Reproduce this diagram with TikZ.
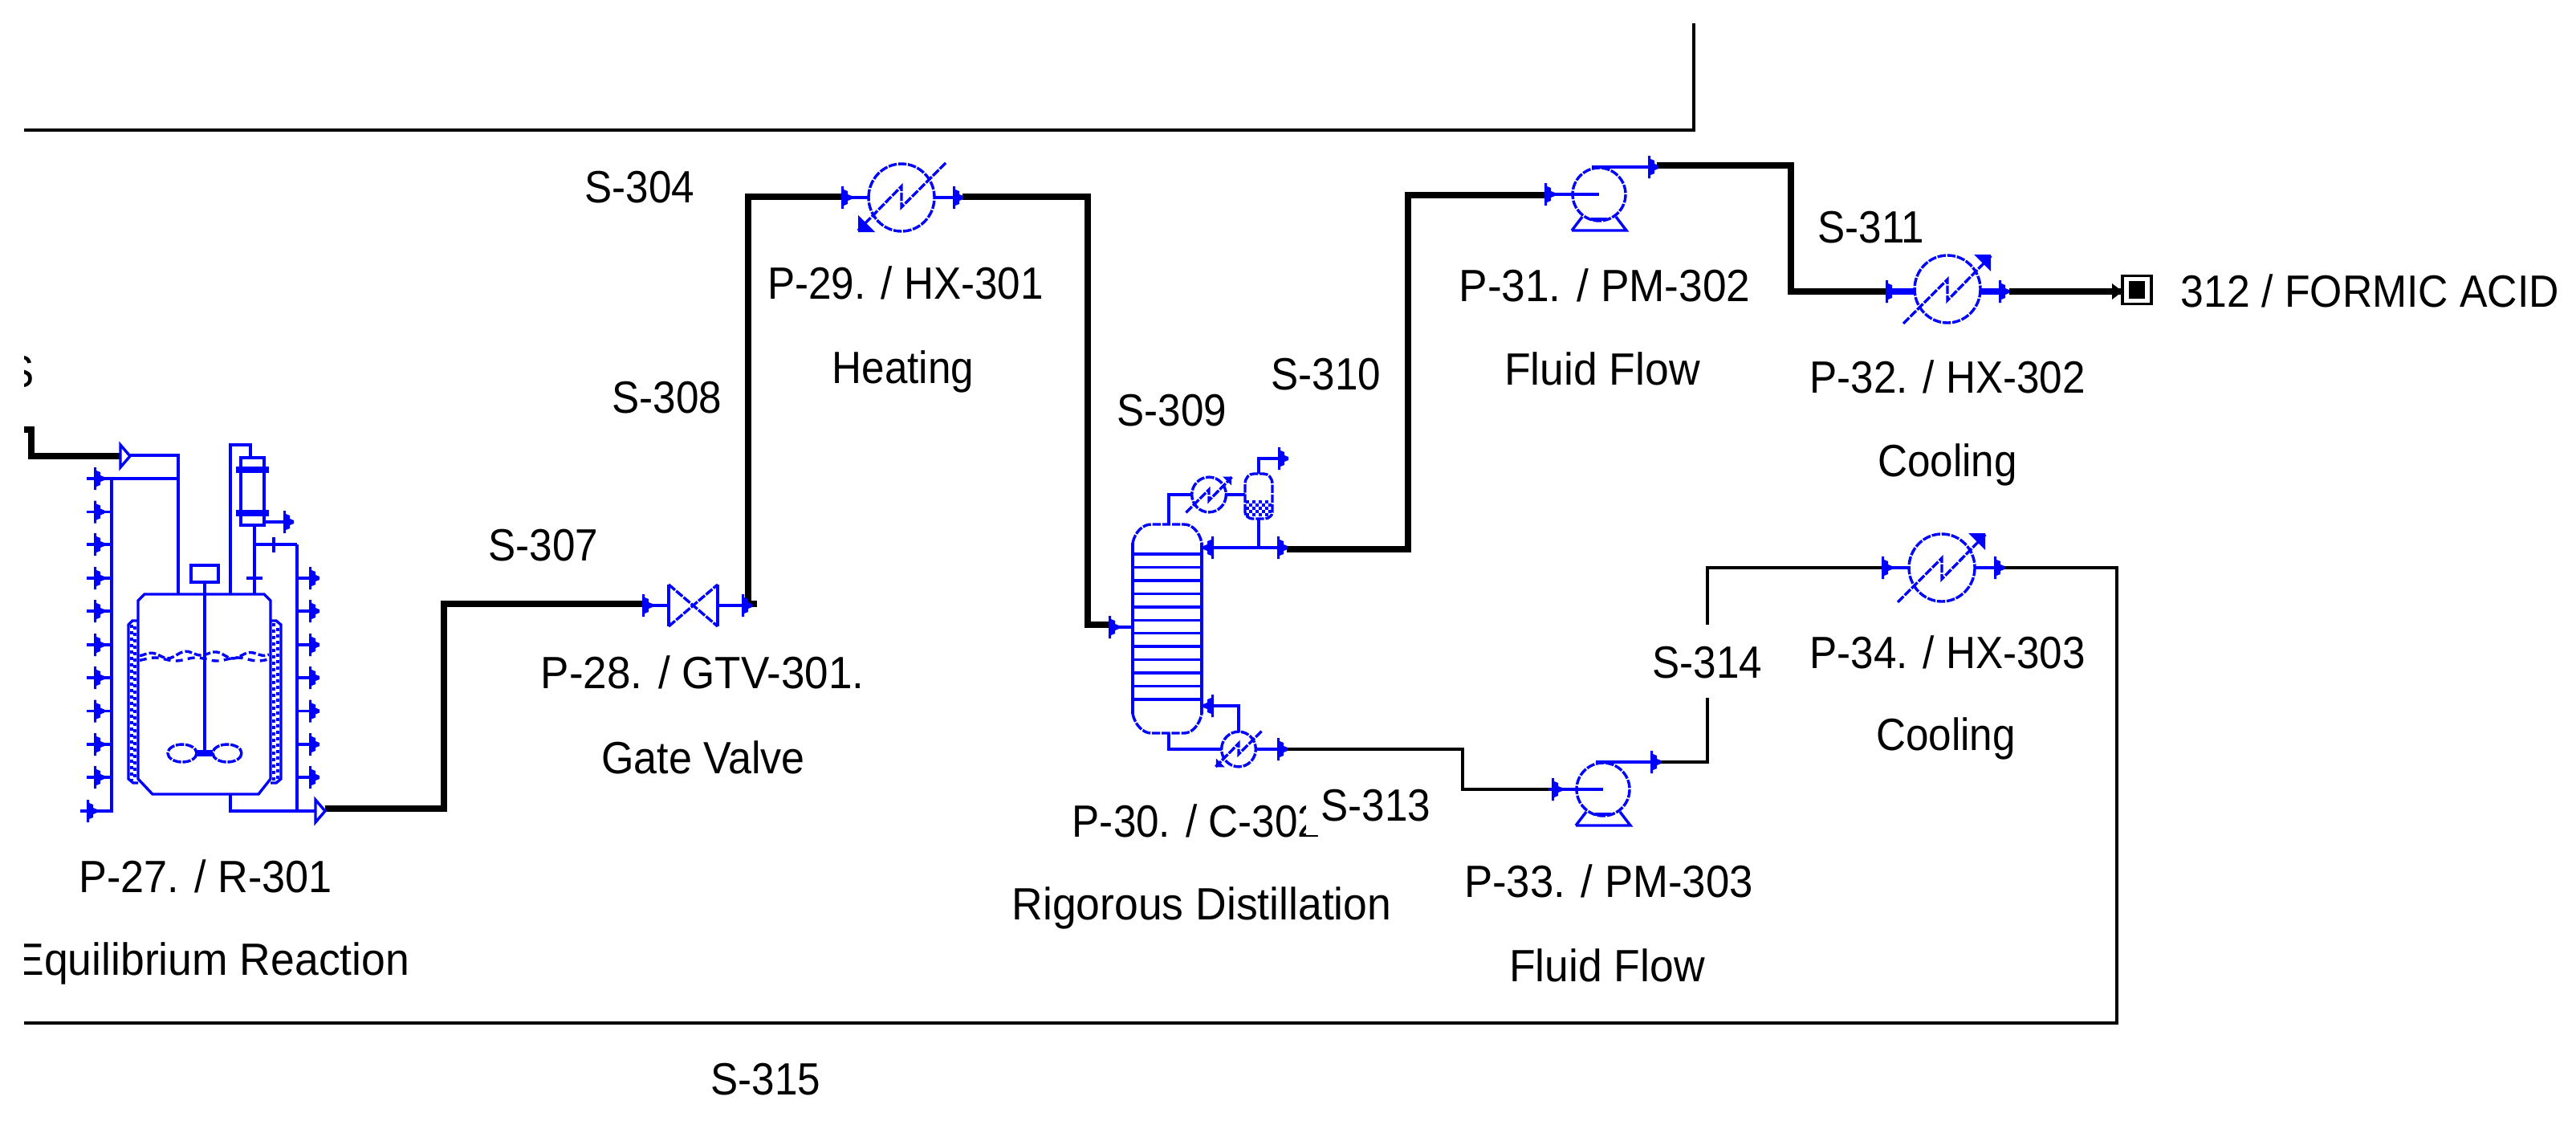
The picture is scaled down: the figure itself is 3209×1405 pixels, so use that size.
\documentclass[tikz,border=0pt]{standalone}
\usepackage{fontspec}
\usepackage{graphicx}
\setmainfont{Liberation Sans}
\definecolor{pfdblue}{RGB}{0,0,255}
\newcommand{\lbl}[1]{\scalebox{1}[1.1]{#1}}
\newcommand{\lblw}[2]{\scalebox{#1}[1.1]{#2}}
\tikzset{
  bl/.style={draw=pfdblue,line width=.85pt,line join=miter},
  bld/.style={bl,dash pattern=on 2.6pt off .45pt},
  thickline/.style={draw=black,line width=2pt,line join=miter},
  thinline/.style={draw=black,line width=1pt,line join=miter},
  lab/.style={font=\fontsize{12.8}{15}\selectfont,inner sep=0pt,anchor=base},
  chk/.style={draw=pfdblue,line width=1pt,dash pattern=on 1pt off 1pt},
  pics/barb/.style={code={
    \fill[pfdblue] (0,-14)--(3,-14)--(3,-10)--(8,-8)--(8,-4)--(13,-2)--(13,2)--(8,4)--(8,8)--(3,10)--(3,14)--(0,14)--cycle;}},
  pics/openbarb/.style={code={
    \draw[bl,fill=white] (0,-14)--(12,0)--(0,14)--cycle;}},
  pics/hx/.style={code={
    \draw[bld] (0,0) ellipse [x radius=41,y radius=42];
    \draw[bld] (-55,43)--(0,-12)--(0,14)--(55,-42);
    \fill[pfdblue] (33,-43)--(54,-43)--(54,-22)--cycle;}},
  pics/pump/.style={code={
    \draw[bld] (0,0) ellipse [x radius=33,y radius=33];
    \draw[bl] (-34,45)--(34,45)--(21,28) (-34,45)--(-21,28);
    \draw[bl] (-10,31)--(10,31);
    \draw[bl] (-9,-34)--(61,-34);
    \draw[bl] (-68,0)--(0,0);
    \draw[bl] (10,-34)--(10,-30);}}
}
\begin{document}
\begin{tikzpicture}[x=.25pt,y=-.25pt]
\useasboundingbox (0,0) rectangle (3209,1405);
\fill[white] (0,0) rectangle (3209,1405);
\begin{scope}
\clip (30,0) rectangle (3209,1405);

% ---- named ports and corners
\coordinate (topA) at (2110,29);
\coordinate (topB) at (20,162);
\coordinate (feedA) at (20,535);
\coordinate (feedB) at (39,535);
\coordinate (Rin) at (150,568);
\coordinate (Rout) at (405,1007);
\coordinate (c1) at (553,1007);
\coordinate (Vin) at (800,752);
\coordinate (Vout) at (943,752);
\coordinate (c2) at (932,752);
\coordinate (Hin) at (1048,245);
\coordinate (Hout) at (1199,245);
\coordinate (c3) at (1355,245);
\coordinate (Cin) at (1381,778);
\coordinate (Dout) at (1603,684);
\coordinate (c4) at (1754,684);
\coordinate (P1in) at (1924,243);
\coordinate (P1out) at (2064,206);
\coordinate (c5) at (2231,206);
\coordinate (H2in) at (2349,363);
\coordinate (H2out) at (2503,363);
\coordinate (Prod) at (2644,363);
\coordinate (Bout) at (1603,933);
\coordinate (c6) at (1822,933);
\coordinate (P2in) at (1933,983);
\coordinate (P2out) at (2067,949);
\coordinate (c7) at (2127,949);
\coordinate (H3in) at (2344,707);
\coordinate (H3out) at (2496,707);
\coordinate (c8) at (2637,707);
\coordinate (recy) at (20,1274);

% ---- streams
\draw[thinline] (topA) |- (topB);
\draw[thickline] (feedA) -- (feedB) |- (Rin);
\draw[thickline] (Rout) -- (c1) |- (Vin);
\draw[thickline] (Vout) -- (c2) |- (Hin);
\draw[thickline] (Hout) -- (c3) |- (Cin);
\draw[thickline] (Dout) -- (c4) |- (P1in);
\draw[thickline] (P1out) -- (c5) |- (H2in);
\draw[thickline] (H2out) -- (Prod);
\draw[thinline] (Bout) -- (c6) |- (P2in);
\draw[thinline] (P2out) -- (c7) |- (H3in);
\draw[thinline] (H3out) -- (c8) |- (recy);

% ---- reactor R-301
\pic at (150,568) {openbarb};
\draw[bl] (162,567) -| (222,740);
\draw[bl] (222,596) -- (139,596);
\draw[bl] (139,596) -- (139,1010) -- (100,1010);
\foreach \yy in {596,637.5,678,720,761,803,844,885.5,927,968}{
  \draw[bl] (108,\yy) -- (139,\yy);
  \pic at (117,\yy) {barb};
}
\pic at (108,1010) {barb};
\draw[bl] (370,678) -- (370,1010);
\draw[bl] (317,654) -- (317,740);
\draw[bl] (317,678) -- (370,678);
\draw[bl] (341,669) -- (341,688);
\draw[bl] (307,720) -- (327,720);
\foreach \yy in {720,761,803,844,885.5,927,968}{
  \draw[bl] (370,\yy) -- (385,\yy);
  \pic at (385,\yy) {barb};
}
\draw[bl] (287,988) -- (287,1010) -- (393,1010);
\pic at (393,1010) {openbarb};
% condenser
\draw[bl,line width=1.1pt] (300,570) rectangle (329,654);
\draw[bl,line width=1.8pt] (294,585) -- (335,585);
\draw[bl,line width=1.8pt] (294,639) -- (335,639);
\draw[bl] (312,570) -- (312,554) -- (287,554) -- (287,740);
\draw[bl] (330,650) -- (353,650);
\pic at (353,650) {barb};
% vessel
\draw[bl] (172,773) -- (172,748) -- (180,740) -- (329,740) -- (337,748) -- (337,773);
\draw[bl] (172,773) -- (172,970) -- (190,989) -- (322,989) -- (337,970) -- (337,773);
\draw[bl] (172,773) -- (165,773) -- (160,778) -- (160,970) -- (166,975) -- (172,975);
\draw[bl] (337,773) -- (344,773) -- (350,778) -- (350,970) -- (344,975) -- (337,975);
\draw[chk] (164,778) -- (164,972);
\draw[chk,dash phase=1pt] (168,776) -- (168,972);
\draw[chk] (341,776) -- (341,972);
\draw[chk,dash phase=1pt] (346,778) -- (346,972);
% liquid level
\draw[bl,dash pattern=on 2.2pt off .8pt] plot[domain=174:335,samples=60,smooth] (\x,{815+3*sin(9*\x)+2*sin(4*\x)});
\draw[bl,dash pattern=on 2.2pt off 1.6pt] plot[domain=174:335,samples=60,smooth] (\x,{821+2*sin(7*\x)});
% agitator
\draw[bl,line width=1.1pt] (238,704) rectangle (272,725);
\draw[bl] (255,725) -- (255,934);
\fill[pfdblue] (245,934) rectangle (265,942);
\draw[bld] (227,938) ellipse [x radius=18,y radius=11];
\draw[bld] (283,938) ellipse [x radius=18,y radius=11];

% ---- valve GTV-301
\pic at (800,754) {barb};
\draw[bl] (813,754) -- (833,754);
\draw[bl,line width=1pt] (833,728) -- (833,780);
\draw[bl,line width=1pt] (894,728) -- (894,780);
\draw[bld] (833,728) -- (894,780);
\draw[bld] (833,780) -- (894,728);
\draw[bl] (894,754) -- (924,754);
\pic at (924,754) {barb};

% ---- HX-301
\pic at (1048,246) {barb};
\draw[bl] (1059,246) -- (1082,246);
\pic[rotate=180] at (1123,246) {hx};
\draw[bl] (1165,246) -- (1187,246);
\pic at (1187,246) {barb};

% ---- column C-302
\draw[bl] (1411,676) -- (1411,889);
\draw[bl] (1497,676) -- (1497,889);
\draw[bld] (1411,676) .. controls (1414,662) and (1424,653) .. (1434,653) -- (1475,653) .. controls (1485,653) and (1494,662) .. (1497,676);
\draw[bld] (1411,889) .. controls (1414,903) and (1424,913) .. (1434,913) -- (1475,913) .. controls (1485,913) and (1494,903) .. (1497,889);
\foreach \i in {0,...,11}{
  \draw[bl] (1411,{690+16.45*\i}) -- (1497,{690+16.45*\i});
}
\pic at (1381,781) {barb};
\draw[bl] (1393,781) -- (1411,781);
% overhead
\draw[bl] (1456,653) -- (1456,616) -- (1485,616);
\pic[scale=.52] at (1506,616) {hx};
\draw[bl] (1526,616) -- (1551,616);
\draw[bld] (1551,638) -- (1551,603) .. controls (1551,595) and (1556,590) .. (1562,590) -- (1574,590) .. controls (1580,590) and (1585,595) .. (1585,603) -- (1585,638) .. controls (1585,642) and (1580,646) .. (1576,646) -- (1560,646) .. controls (1556,646) and (1551,642) .. (1551,638);
\foreach \yy/\ph in {625/0pt,629/1pt,633/0pt,637/1pt,641/0pt}{
  \draw[chk,dash phase=\ph] (1552,\yy) -- (1584,\yy);
}
\draw[bl] (1568,590) -- (1568,571) -- (1592,571);
\pic at (1592,571) {barb};
\draw[bl] (1568,646) -- (1568,682);
\draw[bl] (1592,682) -- (1512,682);
\pic at (1591,682) {barb};
\pic[rotate=180] at (1512,682) {barb};
% reboiler
\draw[bl] (1456,913) -- (1456,933) -- (1522,933);
\pic[scale=.52,rotate=180] at (1543,933) {hx};
\draw[bl] (1543,912) -- (1543,879) -- (1512,879);
\pic[rotate=180] at (1512,879) {barb};
\draw[bl] (1564,933) -- (1591,933);
\pic at (1591,933) {barb};

% ---- pumps
\pic at (1992,242) {pump};
\pic at (1924,242) {barb};
\pic at (2053,208) {barb};
\pic at (1997,983) {pump};
\pic at (1933,983) {barb};
\pic at (2056,949) {barb};

% ---- HX-302
\draw[bl,line width=2pt] (2349,363) -- (2385,363);
\draw[bl,line width=2pt] (2467,363) -- (2490,363);
\pic at (2349,363) {barb};
\pic at (2426,360) {hx};
\pic at (2490,363) {barb};
\fill[black] (2631,353) -- (2644,363) -- (2631,373) -- cycle;
\node[draw=black,line width=.8pt,minimum width=9pt,minimum height=8.8pt,inner sep=0pt] (endbox) at (2662,361) {};
\fill[black] (2652,350) rectangle (2672,372);

% ---- HX-303
\pic at (2344,707) {barb};
\draw[bl] (2355,707) -- (2380,707);
\pic at (2419,707) {hx};
\draw[bl] (2459,707) -- (2484,707);
\pic at (2484,707) {barb};

% ---- labels
\node[lab,anchor=base east] (lS) at (43,482) {\lbl{S}};
\node[lab] (s304) at (797,252) {\lbl{S-304}};
\node[lab] (s308) at (831,514) {\lbl{S-308}};
\node[lab] (s307) at (677,698) {\lbl{S-307}};
\node[lab] (s309) at (1460,530) {\lbl{S-309}};
\node[lab] (s310) at (1652,485) {\lbl{S-310}};
\node[lab] (s311) at (2331,302) {\lbl{S-311}};
\fill[white] (2100,778) rectangle (2154,869);
\node[lab] (s314) at (2127,844) {\lbl{S-314}};
\node[lab] (s315) at (954,1363) {\lbl{S-315}};
\node[lab] (p27) at (256,1111) {\lblw{1.02}{P-27. / R-301}};
\node[lab,anchor=base east] (p27b) at (511,1214) {\lblw{1.045}{Equilibrium Reaction}};
\node[lab,anchor=base west] (p28) at (673,857) {\lblw{1.035}{P-28. / GTV-301.}};
\node[lab] (p28b) at (876,963) {\lblw{1.016}{Gate Valve}};
\node[lab] (p29) at (1128,372) {\lbl{P-29. / HX-301}};
\node[lab] (p29b) at (1125,477) {\lbl{Heating}};
\node[lab,anchor=base west] (p30) at (1335,1042) {\lbl{P-30. / C-302}};
\fill[white] (1627,960) rectangle (1795,1040);
\node[lab] (s313) at (1714,1022) {\lbl{S-313}};
\node[lab] (p30b) at (1497,1145) {\lblw{1.045}{Rigorous Distillation}};
\node[lab] (p31) at (1999,375) {\lblw{1.04}{P-31. / PM-302}};
\node[lab] (p31b) at (1996,479) {\lblw{1.044}{Fluid Flow}};
\node[lab] (p32) at (2426,489) {\lbl{P-32. / HX-302}};
\node[lab] (p32b) at (2426,593) {\lbl{Cooling}};
\node[lab] (p33) at (2004,1117) {\lblw{1.03}{P-33. / PM-303}};
\node[lab] (p33b) at (2002,1222) {\lblw{1.044}{Fluid Flow}};
\node[lab] (p34) at (2426,832) {\lbl{P-34. / HX-303}};
\node[lab] (p34b) at (2424,934) {\lbl{Cooling}};
\node[lab,anchor=base west] (prod) at (2716,382) {\lblw{1.01}{312 / FORMIC ACID}};
\end{scope}
\end{tikzpicture}
\end{document}
